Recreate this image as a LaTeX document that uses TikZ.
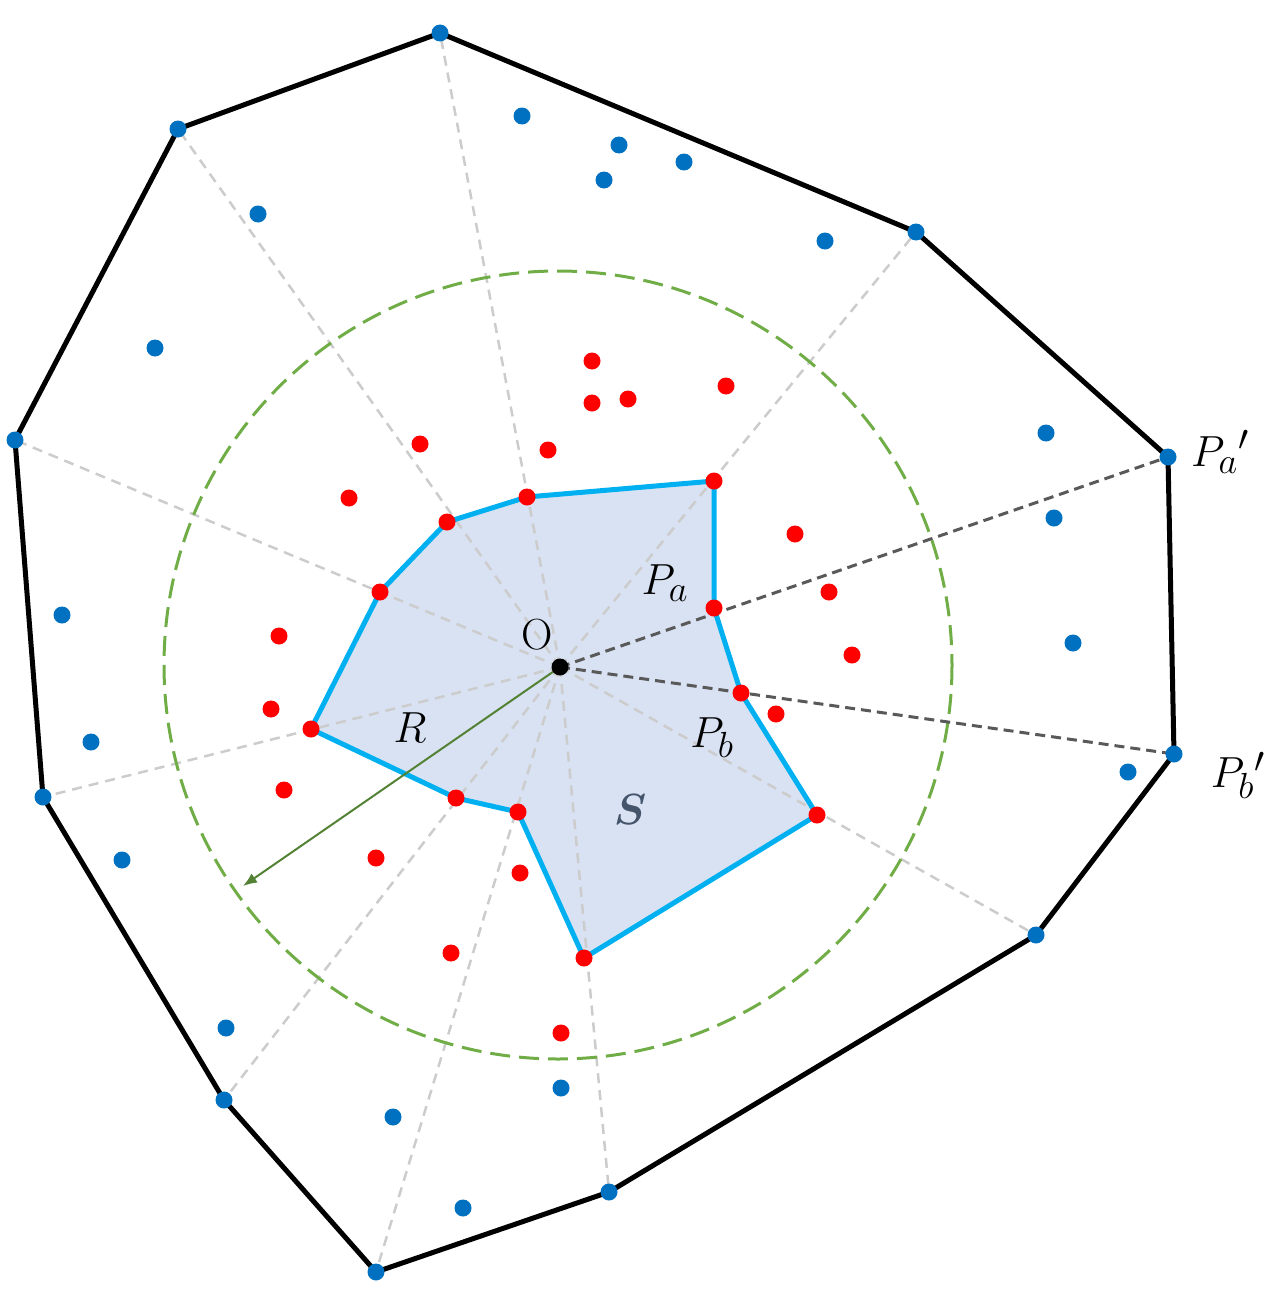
\documentclass[tikz,border=0pt]{standalone}
\usepackage{amsmath,bm,graphicx}
\usetikzlibrary{arrows.meta}
\definecolor{dotblue}{HTML}{0070C0}
\definecolor{sfill}{HTML}{D9E2F3}
\definecolor{sline}{HTML}{00B0F0}
\definecolor{cgreen}{HTML}{70AD47}
\definecolor{agreen}{HTML}{548235}
\definecolor{slab}{HTML}{44546A}
\newcommand{\biglbl}[1]{\scalebox{1.75}{\Huge #1}}
\begin{document}
\begin{tikzpicture}[x=1pt,y=-1pt,
 red/.style={circle,fill=red,inner sep=0,minimum size=17pt},
 blue/.style={circle,fill=dotblue,inner sep=0,minimum size=17pt},
 spoke/.style={gray!40,line width=2.5pt,dash pattern=on 10pt off 7pt},
 dspoke/.style={black!65,line width=3pt,dash pattern=on 10pt off 6pt},
 lbl/.style={inner sep=0}]
\useasboundingbox (0,0) rectangle (1285,1290);
\coordinate (O) at (560,667);
\foreach \n/\p in {o1/{440,33},o2/{916,232},o3/{1168,457},o4/{1174,754},o5/{1036,935},o6/{609,1192},o7/{376,1272},o8/{224,1100},o9/{43,797},o10/{15,440},o11/{178,129}}
  \coordinate (\n) at (\p);
\foreach \n/\p in {s1/{714,481},s2/{527,497},s3/{447,522},s4/{380,592},s5/{311,729},s6/{456,798},s7/{518,812},s8/{584,958},s9/{817,815},s10/{741,693},s11/{714,608}}
  \coordinate (\n) at (\p);
\fill[sfill] (s1)--(s2)--(s3)--(s4)--(s5)--(s6)--(s7)--(s8)--(s9)--(s10)--(s11)--cycle;
\foreach \n in {o1,o2,o5,o6,o7,o8,o9,o10,o11} \draw[spoke] (O) -- (\n);
\draw[cgreen,line width=3pt,dash pattern=on 20pt off 9pt] (558,665) circle (394);
\draw[sline,line width=5pt,line join=round] (s1)--(s2)--(s3)--(s4)--(s5)--(s6)--(s7)--(s8)--(s9)--(s10)--(s11)--cycle;
\draw[dspoke] (O) -- (o3); \draw[dspoke] (O) -- (o4);
\draw[black,line width=5pt,line join=round] (o1)--(o2)--(o3)--(o4)--(o5)--(o6)--(o7)--(o8)--(o9)--(o10)--(o11)--cycle;
\coordinate (Rend) at (243,886);
\draw[agreen,line width=2pt,-{Latex[length=14pt,width=11pt]}] (O) -- (Rend);
\foreach \n in {s1,s2,s3,s4,s5,s6,s7,s8,s9,s10,s11} \node[red] at (\n) {};
\foreach \p in {{592,361},{592,403},{628,399},{726,386},{420,444},{548,450},{349,498},{795,534},{829,592},{852,655},{279,636},{271,709},{776,714},{284,790},{376,858},{520,873},{451,953},{561,1033}}
  \node[red] at (\p) {};
\foreach \n in {o1,o2,o3,o4,o5,o6,o7,o8,o9,o10,o11} \node[blue] at (\n) {};
\foreach \p in {{522,116},{619,145},{684,162},{604,180},{258,214},{825,241},{155,348},{1046,433},{1054,518},{62,615},{1073,643},{91,742},{1128,772},{122,860},{226,1028},{561,1088},{393,1117},{463,1208}}
  \node[blue] at (\p) {};
\node[circle,fill=black,inner sep=0,minimum size=17pt] (Odot) at (O) {};
\node[lbl] (Ol) at (537,635) {\biglbl{O}};
\node[lbl] (Pap) at (1220,452) {\biglbl{$P_a{}'$}};
\node[lbl] (Pbp) at (1238,775) {\biglbl{$P_b{}'$}};
\node[lbl] (Pa) at (665,583) {\biglbl{$P_a$}};
\node[lbl] (Pb) at (712,738) {\biglbl{$P_b$}};
\node[lbl] (R) at (410,728) {\biglbl{$R$}};
\node[lbl,text=slab] (S) at (630,810) {\biglbl{$\bm{S}$}};
\end{tikzpicture}
\end{document}
